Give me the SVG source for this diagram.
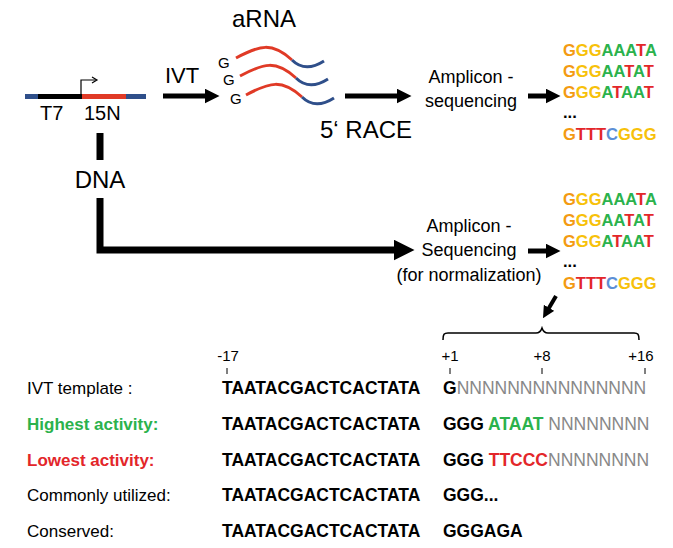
<svg xmlns="http://www.w3.org/2000/svg" width="673" height="548" viewBox="0 0 673 548">
<style>
text{font-family:"Liberation Sans",Arial,sans-serif}
.b{font-weight:bold}
.s{font-size:16.5px;font-weight:bold}
.o{fill:#f39a12}.y{fill:#f7c10a}.a{fill:#2bb24c}.t{fill:#e3262a}.c{fill:#5c8fd6}.n{fill:#888}
.r{fill:none;stroke-width:3}
</style>
<defs>
<marker id="ah" markerWidth="3" markerHeight="3" refX="1.5" refY="1.5" orient="auto"><path d="M0,0L3,1.5L0,3z" fill="#000"/></marker>
</defs>
<rect width="673" height="548" fill="#fff"/>
<g id="dna">
<rect x="25" y="94" width="121" height="5" fill="#2f4f8a"/>
<rect x="38" y="94" width="44" height="5" fill="#000"/>
<rect x="82" y="94" width="44" height="5" fill="#e03a26"/>
<path d="M81,94V80H96" fill="none" stroke="#000" stroke-width="1.2"/>
<path d="M92,77L97,80L92,83" fill="none" stroke="#000" stroke-width="1.2"/>
<text x="40" y="120" font-size="20">T7</text>
<text x="84" y="120" font-size="20">15N</text>
<text x="100" y="188" font-size="24" text-anchor="middle">DNA</text>
</g>
<g id="arna">
<text x="232" y="27" font-size="24">aRNA</text>
<g font-size="15">
<text x="218" y="68">G</text><text x="223" y="85">G</text><text x="230" y="104">G</text>
</g>
<g class="r">
<path d="M236,58C260,45 272,42 292,60" stroke="#e03a26"/><path d="M292,60C300,68 310,70 324,61" stroke="#2f4f8a"/>
<path d="M240,76C264,63 276,60 296,78" stroke="#e03a26"/><path d="M296,78C304,86 314,88 328,79" stroke="#2f4f8a"/>
<path d="M246,95C270,82 282,79 302,97" stroke="#e03a26"/><path d="M302,97C310,105 320,107 334,98" stroke="#2f4f8a"/>
</g>
<text x="320" y="138" font-size="24">5‘ RACE</text>
<text x="165" y="83" font-size="22">IVT</text>
</g>
<g id="amp1" font-size="18" text-anchor="middle">
<text x="471" y="83">Amplicon -</text>
<text x="471" y="107">sequencing</text>
</g>
<g id="amp2" font-size="18" text-anchor="middle">
<text x="469" y="232">Amplicon -</text>
<text x="469" y="256">Sequencing</text>
<text x="469" y="281">(for normalization)</text>
</g>
<g id="seq1" class="s">
<text x="563" y="56"><tspan class="o">G</tspan><tspan class="y">GG</tspan><tspan class="a">AAA</tspan><tspan class="t">T</tspan><tspan class="a">A</tspan></text>
<text x="563" y="77"><tspan class="o">G</tspan><tspan class="y">GG</tspan><tspan class="a">AA</tspan><tspan class="t">T</tspan><tspan class="a">A</tspan><tspan class="t">T</tspan></text>
<text x="563" y="98"><tspan class="o">G</tspan><tspan class="y">GG</tspan><tspan class="a">A</tspan><tspan class="t">T</tspan><tspan class="a">AA</tspan><tspan class="t">T</tspan></text>
<text x="563" y="118">...</text>
<text x="563" y="140"><tspan class="o">G</tspan><tspan class="t">TTT</tspan><tspan class="c">C</tspan><tspan class="y">GGG</tspan></text>
</g>
<g id="seq2" class="s">
<text x="563" y="205"><tspan class="o">G</tspan><tspan class="y">GG</tspan><tspan class="a">AAA</tspan><tspan class="t">T</tspan><tspan class="a">A</tspan></text>
<text x="563" y="226"><tspan class="o">G</tspan><tspan class="y">GG</tspan><tspan class="a">AA</tspan><tspan class="t">T</tspan><tspan class="a">A</tspan><tspan class="t">T</tspan></text>
<text x="563" y="247"><tspan class="o">G</tspan><tspan class="y">GG</tspan><tspan class="a">A</tspan><tspan class="t">T</tspan><tspan class="a">AA</tspan><tspan class="t">T</tspan></text>
<text x="563" y="267">...</text>
<text x="563" y="289"><tspan class="o">G</tspan><tspan class="t">TTT</tspan><tspan class="c">C</tspan><tspan class="y">GGG</tspan></text>
</g>
<g id="connectors" stroke="#000" fill="none">
<path d="M163,96H212" stroke-width="5" marker-end="url(#ah)"/>
<path d="M345,96H404" stroke-width="5" marker-end="url(#ah)"/>
<path d="M528,96H553" stroke-width="5" marker-end="url(#ah)"/>
<path d="M528,251H553" stroke-width="5" marker-end="url(#ah)"/>
<path d="M100,133V160" stroke-width="7"/>
<path d="M100,198V250H404" stroke-width="7" marker-end="url(#ah)" stroke-linejoin="miter"/>
<path d="M556,296L546,313" stroke-width="4" marker-end="url(#ah)"/>
<path d="M443,340C443,334 444,333 448,333H536C540,333 541,331 542,328C543,331 544,333 548,333H634C638,333 639,334 639,340" stroke-width="1.5"/>
<g stroke-width="1"><path d="M227,368V374M450,368V374M542,368V374M645,368V374"/></g>
</g>
<g id="table" font-size="17">
<g font-size="15" text-anchor="middle"><text x="228" y="361">-17</text><text x="450" y="361">+1</text><text x="542" y="361">+8</text><text x="641" y="361">+16</text></g>
<text x="27" y="394">IVT template :</text>
<text x="27" y="430" class="b" fill="#2bb24c">Highest activity:</text>
<text x="27" y="466" class="b" fill="#e3262a">Lowest activity:</text>
<text x="27" y="501">Commonly utilized:</text>
<text x="27" y="537">Conserved:</text>
<g class="b" font-size="17.5">
<text x="222" y="394">TAATACGACTCACTATA</text>
<text x="222" y="430">TAATACGACTCACTATA</text>
<text x="222" y="466">TAATACGACTCACTATA</text>
<text x="222" y="501">TAATACGACTCACTATA</text>
<text x="222" y="537">TAATACGACTCACTATA</text>
<text x="443" y="394">G<tspan class="n" font-weight="normal">NNNNNNNNNNNNNNN</tspan></text>
<text x="443" y="430">GGG <tspan class="a">ATAAT</tspan> <tspan class="n" font-weight="normal">NNNNNNNN</tspan></text>
<text x="443" y="466">GGG <tspan class="t">TTCCC</tspan><tspan class="n" font-weight="normal">NNNNNNNN</tspan></text>
<text x="443" y="501">GGG...</text>
<text x="443" y="537">GGGAGA</text>
</g>
</g>
</svg>
